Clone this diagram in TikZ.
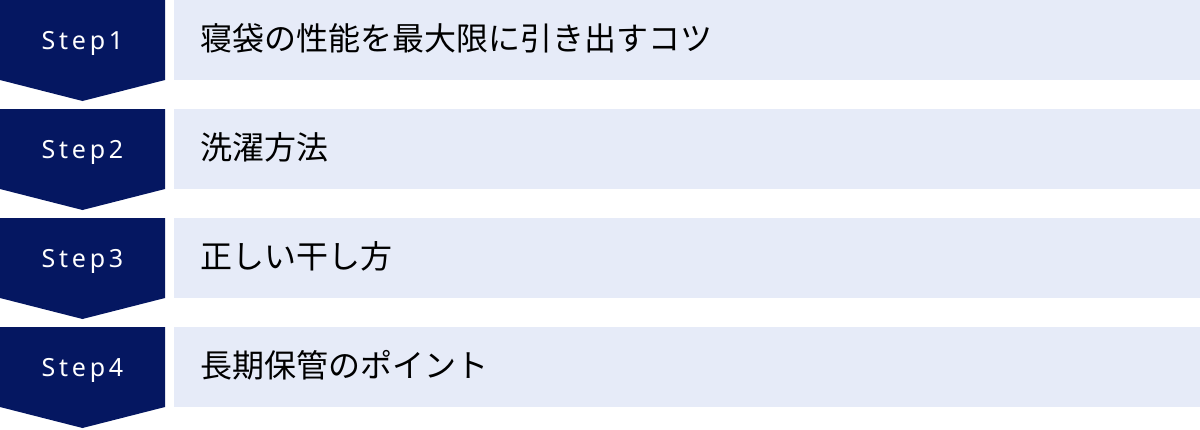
\documentclass[tikz,border=0pt]{standalone}
\usepackage{fontspec}
\newfontfamily\stepfont[LetterSpace=15]{Noto Sans}
\newfontfamily\jpfont{Noto Sans CJK JP}
\definecolor{navy}{HTML}{051761}
\definecolor{pale}{HTML}{E6EBF8}
\begin{document}
\begin{tikzpicture}[x=1pt,y=-1pt,
  stepshape/.style={fill=navy,draw=none},
  bar/.style={fill=pale,draw=none},
  steplabel/.style={text=white,font=\stepfont\fontsize{25}{25}\selectfont,anchor=base,inner sep=0pt},
  barlabel/.style={text=black,font=\jpfont\fontsize{32}{32}\selectfont,anchor=base west,inner sep=0pt}]
\useasboundingbox (0,0) rectangle (1200,429);
\foreach \i/\t in {0/寝袋の性能を最大限に引き出すコツ,1/洗濯方法,2/正しい干し方,3/長期保管のポイント}{
  \pgfmathsetmacro{\y}{\i*109}
  \fill[stepshape] (0,\y) -- (165,\y) -- (165,\y+80) -- (82.5,\y+101) -- (0,\y+80) -- cycle;
  \fill[bar] (174,\y) rectangle (1200,\y+80);
  \pgfmathtruncatemacro{\n}{\i+1}
  \node[steplabel] (s\n) at (82.5,\y+49.5) {Step\n};
  \node[barlabel] (t\n) at (200,\y+50) {\t};
}
\end{tikzpicture}
\end{document}
